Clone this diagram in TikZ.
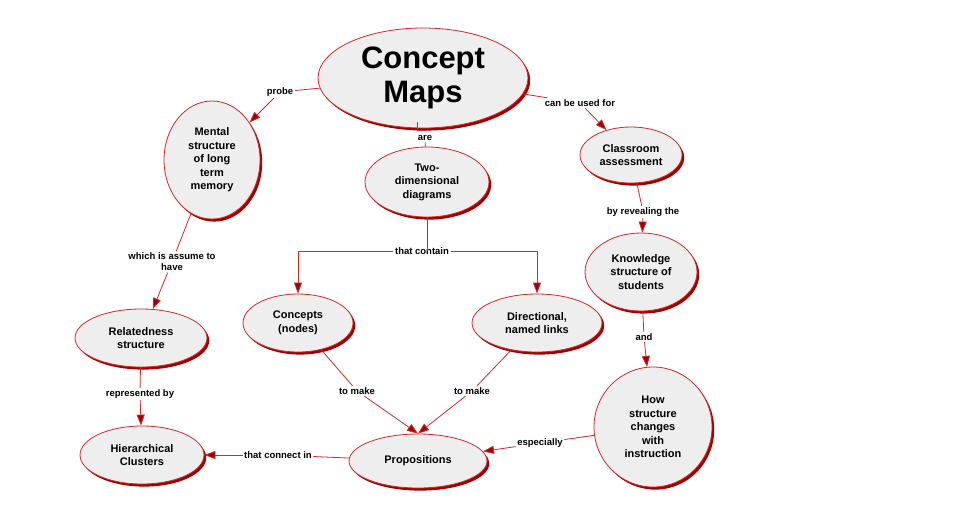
\documentclass[tikz,border=0pt]{standalone}
\usepackage{fontspec}
\setmainfont{Liberation Sans}
\usetikzlibrary{shapes.geometric,shadows,arrows.meta}
\definecolor{lnred}{HTML}{CC2A2A}
\definecolor{shred}{HTML}{A00000}
\definecolor{ellfill}{HTML}{EEEEEE}
\tikzset{
 cnode/.style={ellipse,draw=lnred,line width=0.8pt,fill=ellfill,inner sep=0pt,align=center,
   font=\bfseries\fontsize{11}{13.5}\selectfont,
   drop shadow={shadow xshift=2.2pt,shadow yshift=-2.6pt,fill=shred,opacity=1}},
 lbl/.style={inner sep=1.5pt,align=center,font=\bfseries\fontsize{9.5}{11}\selectfont},
 redline/.style={draw=lnred,line width=0.8pt},
 redarr/.style={redline,-{Triangle[length=11pt,width=8pt,fill=shred]}},
}
\begin{document}
\begin{tikzpicture}[x=1pt,y=-1pt]
\useasboundingbox (0,0) rectangle (960,504);
\node[cnode,minimum width=210,minimum height=100,font=\bfseries\fontsize{31}{34}\selectfont] (cmap) at (423,78) {Concept\\Maps};
\node[cnode,minimum width=96,minimum height=118] (ment) at (212,160) {Mental\\structure\\of long\\term\\memory};
\node[cnode,minimum width=124,minimum height=70] (two) at (427,182) {Two-\\dimensional\\diagrams};
\node[cnode,minimum width=102,minimum height=56] (cls) at (631,155) {Classroom\\assessment};
\node[cnode,minimum width=112,minimum height=78] (know) at (641,272) {Knowledge\\structure of\\students};
\node[cnode,minimum width=132,minimum height=58] (rel) at (141,338) {Relatedness\\structure};
\node[cnode,minimum width=110,minimum height=58] (conc) at (298,323) {Concepts\\(nodes)};
\node[cnode,minimum width=130,minimum height=58] (dir) at (537,323) {Directional,\\named links};
\node[cnode,minimum width=124,minimum height=58] (hier) at (142,455) {Hierarchical\\Clusters};
\node[cnode,minimum width=138,minimum height=54] (prop) at (418,461) {Propositions};
\node[cnode,minimum width=118,minimum height=120] (how) at (653,427) {How\\structure\\changes\\with\\instruction};

\node[lbl] (lprobe) at (280,92) {probe};
\node[lbl] (lare) at (425,138) {are};
\node[lbl] (lcan) at (580,103) {can be used for};
\node[lbl] (lrev) at (643,212) {by revealing the};
\node[lbl] (land) at (644,337) {and};
\node[lbl] (lwhich) at (172,262) {which is assume to\\have};
\node[lbl] (lrep) at (140,394) {represented by};
\node[lbl] (lcont) at (422,251) {that contain};
\node[lbl] (lmk1) at (357,391) {to make};
\node[lbl] (lmk2) at (472,391) {to make};
\node[lbl] (lesp) at (540,443) {especially};
\node[lbl] (lconn) at (278,455) {that connect in};

\draw[redline] (cmap) -- (lprobe);
\draw[redarr] (lprobe) -- (ment);
\draw[redline] (cmap) -- (lcan);
\draw[redarr] (lcan) -- (cls);
\draw[redline] (cmap.south) ++(-6,-6) |- ++(10,8) coordinate (jog);
\draw[redline] (lare) -- (two);
\draw[redline] (cls) -- (lrev);
\draw[redarr] (lrev) -- (know);
\draw[redline] (know) -- (land);
\draw[redarr] (land) -- (how);
\draw[redline] (ment) -- (lwhich);
\draw[redarr] (lwhich) -- (rel);
\draw[redline] (rel) -- (lrep);
\draw[redarr] (lrep) -- (hier);
\draw[redline] (two.south) -- (two.south |- lcont.center);
\draw[redarr] (lcont.west) -| (conc.north);
\draw[redarr] (lcont.east) -| (dir.north);
\draw[redline] (conc) -- (lmk1);
\draw[redarr] (lmk1) -- (prop.north);
\draw[redline] (dir) -- (lmk2);
\draw[redarr] (lmk2) -- (prop.north);
\draw[redline] (how) -- (lesp);
\draw[redarr] (lesp) -- (prop);
\draw[redline] (prop) -- (lconn);
\draw[redarr] (lconn) -- (hier);
\end{tikzpicture}
\end{document}
